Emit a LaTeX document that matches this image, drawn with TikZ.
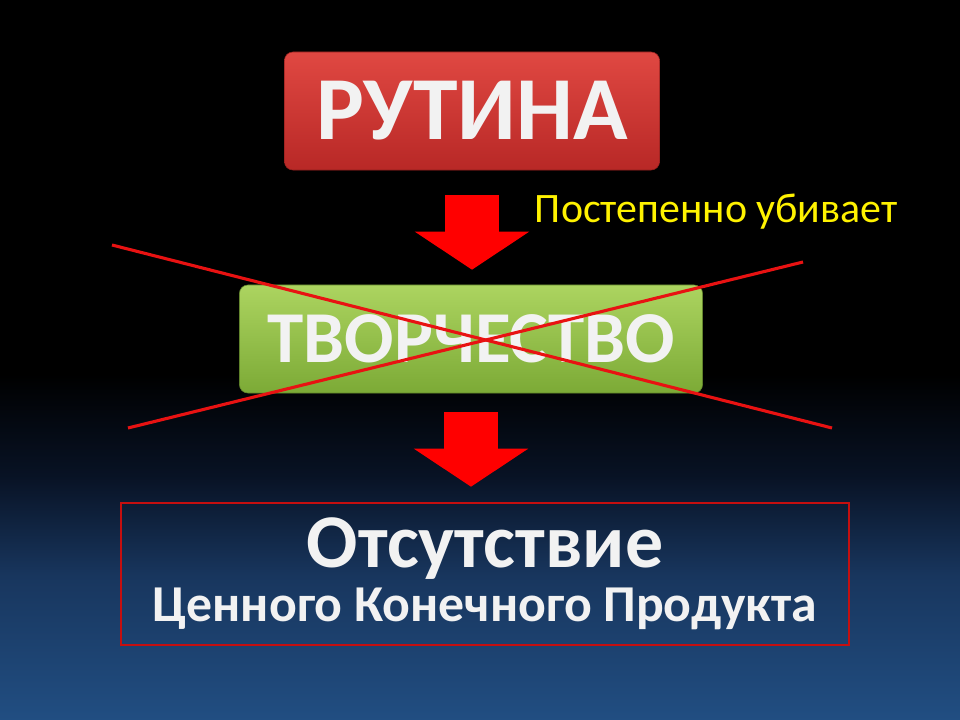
\documentclass[tikz,border=0pt]{standalone}
\usepackage{fontspec}
\setmainfont{Carlito}
\usetikzlibrary{arrows.meta}

\definecolor{bgblue}{RGB}{33,78,130}
\definecolor{bgmid}{RGB}{24,54,94}
\definecolor{bgdark}{RGB}{8,18,36}
\definecolor{rutinatop}{RGB}{224,72,66}
\definecolor{rutinabot}{RGB}{184,40,38}
\definecolor{tvortop}{RGB}{172,212,96}
\definecolor{tvorbot}{RGB}{124,170,54}
\definecolor{labelwhite}{RGB}{242,242,242}
\definecolor{crossred}{RGB}{232,18,18}
\pgfdeclareverticalshading{slidebg}{100bp}{color(0bp)=(bgblue); color(25bp)=(bgblue);
  color(35bp)=(bgmid); color(42bp)=(bgdark); color(49bp)=(black); color(100bp)=(black)}

\begin{document}
\begin{tikzpicture}[x=0.025cm,y=-0.025cm,
    bigbox/.style={rounded corners=6pt,text=labelwhite,font=\bfseries},
    fatarrow/.style={red,line width=39pt,-{Triangle[width=80pt,length=27pt]}},
    xline/.style={crossred,line width=2.2pt}]
    \shade[shading=slidebg] (0,0) rectangle (960,720);
    \useasboundingbox (0,0) rectangle (960,720);
    \node[bigbox,draw=rutinabot!80!black,top color=rutinatop,bottom color=rutinabot,
      minimum width=9.375cm,minimum height=2.95cm,font=\bfseries\fontsize{64}{70}\selectfont]
      (rutina) at (472,111) {РУТИНА};
    \node[bigbox,draw=tvorbot!80!black,top color=tvortop,bottom color=tvorbot,
      minimum width=11.575cm,minimum height=2.7cm,font=\bfseries\fontsize{52}{58}\selectfont]
      (tvor) at (471,339) {ТВОРЧЕСТВО};
    \node[draw=crossred!85!black,line width=1.8pt,minimum width=18.2cm,minimum height=3.55cm,
      text=labelwhite,align=center,font=\bfseries] (result) at (485,574)
      {\fontsize{54}{60}\selectfont Отсутствие\\[5pt]\fontsize{36.8}{44}\selectfont Ценного Конечного Продукта};
    \node[anchor=base west,text=yellow,font=\fontsize{29.8}{34}\selectfont] (kills) at (530,223)
      {Постепенно убивает};
    \draw[fatarrow] ([yshift=-0.625cm]rutina.south) -- ([yshift=0.375cm]rutina.south |- tvor.north);
    \draw[fatarrow] ([yshift=-0.475cm]tvor.south) -- ([yshift=0.375cm]tvor.south |- result.north);
    % the crossing out
    \draw[xline] (112,245) -- (832,428);
    \draw[xline] (128,428) -- (803,262);
  \end{tikzpicture}
\end{document}
